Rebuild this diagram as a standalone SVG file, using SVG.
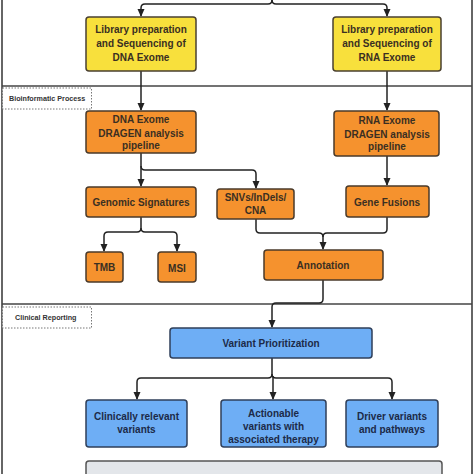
<svg xmlns="http://www.w3.org/2000/svg" width="474" height="474" viewBox="0 0 474 474">
<defs>
<marker id="ah" markerWidth="8" markerHeight="8" refX="7" refY="4" orient="auto" markerUnits="userSpaceOnUse">
<path d="M0,0.5 L8,4 L0,7.5 Z" fill="#222"/>
</marker>
<style>
.t{font-family:"Liberation Sans",Arial,sans-serif;font-weight:bold;font-size:10px;text-anchor:middle;fill:#3a2f22}
.tb{fill:#1c2a48}
.lbl{font-family:"Liberation Sans",Arial,sans-serif;font-weight:bold;font-size:7.2px;fill:#333}
.y{fill:#f8e03c;stroke:#4a4030;stroke-width:1.5}
.o{fill:#f5922e;stroke:#4a3a2a;stroke-width:1.5}
.b{fill:#6eaef5;stroke:#2f3f5a;stroke-width:1.5}
.c{fill:none;stroke:#222;stroke-width:1.5}
.sec{fill:none;stroke:#444;stroke-width:1.5}
.dot{fill:#fff;stroke:#777;stroke-width:1;stroke-dasharray:1.5,1.5}
</style>
</defs>
<rect width="474" height="474" fill="#fff"/>
<g id="frame">
<line x1="2" y1="0" x2="2" y2="474" stroke="#666" stroke-width="2"/>
<line x1="472" y1="0" x2="472" y2="474" stroke="#666" stroke-width="2"/>
<line x1="2" y1="86" x2="472" y2="86" class="sec"/>
<line x1="2" y1="304" x2="472" y2="304" class="sec"/>
</g>
<g id="lbl-bio"><rect x="2.5" y="88" width="89" height="21" class="dot"/><text x="9" y="101" class="lbl">Bioinformatic Process</text></g>
<g id="lbl-clin"><rect x="2.5" y="307" width="89" height="21" class="dot"/><text x="15" y="320" class="lbl">Clinical Reporting</text></g>
<g id="connectors">
<path class="c" d="M272,0 Q272,4 268,4 L145,4 Q141,4 141,8 L141,16" marker-end="url(#ah)"/>
<path class="c" d="M272,0 Q272,4 276,4 L383,4 Q387,4 387,8 L387,16" marker-end="url(#ah)"/>
<path class="c" d="M141,70 L141,110" marker-end="url(#ah)"/>
<path class="c" d="M387,70 L387,110" marker-end="url(#ah)"/>
<path class="c" d="M141,153 L141,186" marker-end="url(#ah)"/>
<path class="c" d="M141,166 Q141,170 145,170 L252,170 Q256,170 256,174 L256,188" marker-end="url(#ah)"/>
<path class="c" d="M387,156 L387,185" marker-end="url(#ah)"/>
<path class="c" d="M141,217 L141,228 Q141,232 137,232 L108,232 Q104,232 104,236 L104,251" marker-end="url(#ah)"/>
<path class="c" d="M141,228 Q141,232 145,232 L173,232 Q177,232 177,236 L177,251" marker-end="url(#ah)"/>
<path class="c" d="M256,219 L256,229 Q256,233 260,233 L319,233 Q323,233 323,237 L323,249" marker-end="url(#ah)"/>
<path class="c" d="M387,217 L387,229 Q387,233 383,233 L327,233 Q323,233 323,237"/>
<path class="c" d="M323,280 L323,299 Q323,303 319,303 L276,303 Q272,303 272,307 L272,327" marker-end="url(#ah)"/>
<path class="c" d="M272,358 L272,374 Q272,378 268,378 L141,378 Q137,378 137,382 L137,399" marker-end="url(#ah)"/>
<path class="c" d="M272,374 Q272,378 276,378 L388,378 Q392,378 392,382 L392,399" marker-end="url(#ah)"/>
<path class="c" d="M273,376 L273,399" marker-end="url(#ah)"/>
</g>
<g id="lib-dna"><rect x="86" y="17" width="110" height="54" rx="3" class="y"/><text class="t" x="141" y="33">Library preparation</text><text class="t" x="141" y="47">and Sequencing of</text><text class="t" x="141" y="61">DNA Exome</text></g>
<g id="lib-rna"><rect x="333" y="17" width="108" height="54" rx="3" class="y"/><text class="t" x="387" y="33">Library preparation</text><text class="t" x="387" y="47">and Sequencing of</text><text class="t" x="387" y="61">RNA Exome</text></g>
<g id="dna-pipe"><rect x="86" y="111" width="110" height="42" rx="3" class="o"/><text class="t" x="141" y="123">DNA Exome</text><text class="t" x="141" y="136.5">DRAGEN analysis</text><text class="t" x="141" y="149">pipeline</text></g>
<g id="rna-pipe"><rect x="334" y="111" width="105" height="45" rx="3" class="o"/><text class="t" x="387" y="124">RNA Exome</text><text class="t" x="387" y="137.5">DRAGEN analysis</text><text class="t" x="387" y="150">pipeline</text></g>
<g id="genomic"><rect x="86" y="187" width="110" height="30" rx="3" class="o"/><text class="t" x="141" y="205.5">Genomic Signatures</text></g>
<g id="snv"><rect x="217" y="189" width="77" height="30" rx="3" class="o"/><text class="t" x="255.5" y="201">SNVs/InDels/</text><text class="t" x="255.5" y="214">CNA</text></g>
<g id="fusions"><rect x="346" y="186" width="83" height="31" rx="3" class="o"/><text class="t" x="387" y="205.5">Gene Fusions</text></g>
<g id="tmb"><rect x="86" y="252" width="37" height="30" rx="3" class="o"/><text class="t" x="104.5" y="271">TMB</text></g>
<g id="msi"><rect x="158" y="252" width="38" height="30" rx="3" class="o"/><text class="t" x="177" y="271.5">MSI</text></g>
<g id="annotation"><rect x="264" y="250" width="119" height="30" rx="3" class="o"/><text class="t" x="323" y="268.5">Annotation</text></g>
<g id="prior"><rect x="170" y="328" width="202" height="30" rx="3" class="b"/><text class="t tb" x="271" y="346.5">Variant Prioritization</text></g>
<g id="clin"><rect x="86" y="400" width="101" height="47" rx="3" class="b"/><text class="t tb" x="136.5" y="420">Clinically relevant</text><text class="t tb" x="136.5" y="433">variants</text></g>
<g id="action"><rect x="221" y="400" width="105" height="47" rx="3" class="b"/><text class="t tb" x="273.5" y="416.5">Actionable</text><text class="t tb" x="273.5" y="429.5">variants with</text><text class="t tb" x="273.5" y="442.5">associated therapy</text></g>
<g id="driver"><rect x="346" y="400" width="92" height="47" rx="3" class="b"/><text class="t tb" x="392" y="420">Driver variants</text><text class="t tb" x="392" y="433">and pathways</text></g>
<g id="bottom"><rect x="86" y="461" width="356" height="20" rx="3" fill="#e3e6ea" stroke="#555" stroke-width="1.5"/></g>
</svg>
